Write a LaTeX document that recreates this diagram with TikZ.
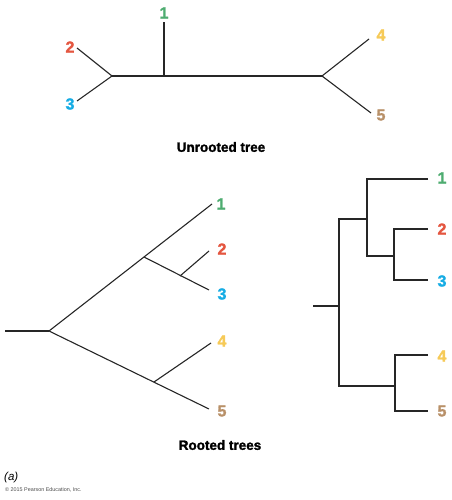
\documentclass[tikz,border=0pt]{standalone}
\usepackage{fontspec}
\setmainfont{Liberation Sans}
\newfontfamily\heavyfont[FakeBold=1.6]{Liberation Sans Bold}
\usepackage{tikz}
\usetikzlibrary{positioning}
\definecolor{tipgreen}{RGB}{78,172,112}
\definecolor{tipred}{RGB}{228,86,64}
\definecolor{tipcyan}{RGB}{22,172,228}
\definecolor{tipyellow}{RGB}{246,202,88}
\definecolor{tipbrown}{RGB}{184,144,104}

\begin{document}
\begin{tikzpicture}[y=-1pt,x=1pt,
  branch/.style={draw=black!85,line width=1.1pt},
  tiplabel/.style={font=\heavyfont\fontsize{16}{16}\selectfont,inner sep=0pt},
  treetitle/.style={font=\heavyfont\fontsize{13.5}{14}\selectfont,inner sep=0pt}]
  \useasboundingbox (0,0) rectangle (451,500);
  % unrooted tree: three inner points on one horizontal line
  \coordinate (u23) at (112,76);
  \coordinate (u1) at (164,76);
  \coordinate (u45) at (322,76);
  \coordinate (ue1) at (164,22);
  \coordinate (ue2) at (77,48);
  \coordinate (ue3) at (77,101);
  \coordinate (ue4) at (369,39);
  \coordinate (ue5) at (371,113);
  \draw[branch] (u23) -- (u45);
  \draw[branch] (u1) -- (ue1);
  \draw[branch] (ue2) -- (u23) -- (ue3);
  \draw[branch] (ue4) -- (u45) -- (ue5);
  \node[tiplabel,tipgreen] (ul1) at (164,13) {1};
  \node[tiplabel,tipred] (ul2) at (70,47) {2};
  \node[tiplabel,tipcyan] (ul3) at (70,104) {3};
  \node[tiplabel,tipyellow] (ul4) at (381,35) {4};
  \node[tiplabel,tipbrown] (ul5) at (381,115) {5};
  \node[treetitle] (unrooted) at (221,147) {Unrooted tree};
  % rooted tree, slanted branches
  \coordinate (sstub) at (5,331);
  \coordinate (sroot) at (49,331);
  \coordinate (s123) at (144,257);
  \coordinate (s23) at (180,276);
  \coordinate (s45) at (154,382);
  \coordinate (se1) at (212,204);
  \coordinate (se2) at (209,251);
  \coordinate (se3) at (209,290);
  \coordinate (se4) at (211,343);
  \coordinate (se5) at (209,409);
  \draw[branch] (sstub) -- (sroot);
  \draw[branch] (sroot) -- (se1);
  \draw[branch] (s123) -- (se3);
  \draw[branch] (s23) -- (se2);
  \draw[branch] (sroot) -- (se5);
  \draw[branch] (s45) -- (se4);
  \node[tiplabel,tipgreen] (sl1) at (221,204) {1};
  \node[tiplabel,tipred] (sl2) at (222,249) {2};
  \node[tiplabel,tipcyan] (sl3) at (222,294) {3};
  \node[tiplabel,tipyellow] (sl4) at (222,341) {4};
  \node[tiplabel,tipbrown] (sl5) at (222,411) {5};
  % rooted tree, square branches
  \coordinate (rstub) at (313,306);
  \coordinate (rroot) at (339,306);
  \coordinate (rtop) at (339,219);
  \coordinate (rbot) at (339,386);
  \coordinate (r123) at (367,219);
  \coordinate (r1) at (367,179);
  \coordinate (r23l) at (367,256);
  \coordinate (r23) at (394,256);
  \coordinate (r2) at (394,229);
  \coordinate (r3) at (394,280);
  \coordinate (r45) at (395,386);
  \coordinate (r4) at (395,355);
  \coordinate (r5) at (395,411);
  \coordinate (re1) at (428,179);
  \coordinate (re2) at (428,229);
  \coordinate (re3) at (428,280);
  \coordinate (re4) at (428,355);
  \coordinate (re5) at (428,411);
  \draw[branch] (rstub) -- (rroot);
  \draw[branch] (r123) -- (rtop) -- (rbot) -- (r45);
  \draw[branch] (re1) -- (r1) -- (r23l) -- (r23);
  \draw[branch] (re2) -- (r2) -- (r3) -- (re3);
  \draw[branch] (re4) -- (r4) -- (r5) -- (re5);
  \node[tiplabel,tipgreen] (rl1) at (442,178) {1};
  \node[tiplabel,tipred] (rl2) at (442,229) {2};
  \node[tiplabel,tipcyan] (rl3) at (442,281) {3};
  \node[tiplabel,tipyellow] (rl4) at (442,356) {4};
  \node[tiplabel,tipbrown] (rl5) at (442,411) {5};
  \node[treetitle] (rooted) at (220,445) {Rooted trees};
  % panel letter and credit line
  \node[anchor=west,inner sep=0pt,font=\itshape\fontsize{11.5}{12}\selectfont] (panel) at (4,478) {(a)};
  \node[anchor=west,inner sep=0pt,font=\fontsize{5.4}{6}\selectfont,black!70] (credit) at (5,490) {© 2015 Pearson Education, Inc.};
\end{tikzpicture}
\end{document}
